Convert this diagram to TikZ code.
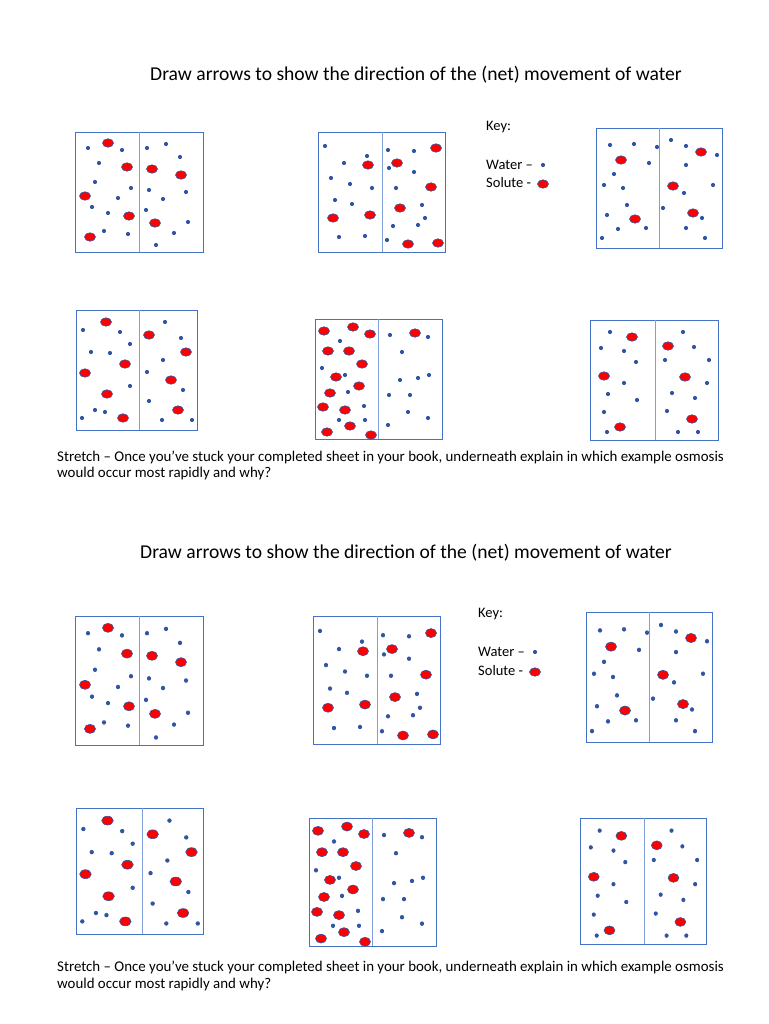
\documentclass[tikz,border=0pt]{standalone}
\usepackage{fontspec}
\setmainfont{Carlito}
\definecolor{bx}{HTML}{4472C4}
\definecolor{dv}{HTML}{7F9FD8}
\definecolor{wt}{HTML}{2F55A4}
\tikzset{
  sol/.style={fill=red, draw=wt, line width=0.6pt},
  frame/.style={draw=bx, line width=0.9pt},
  divline/.style={draw=dv, line width=0.6pt},
  txt/.style={anchor=west, inner sep=0pt, font=\fontsize{14.9}{17}\selectfont},
  keytxt/.style={anchor=west, inner sep=0pt, font=\fontsize{14.5}{17}\selectfont},
  ttl/.style={inner sep=0pt, font=\fontsize{19.6}{22}\selectfont}
}
\newcommand\solset[1]{\foreach \a/\b in {#1} {\draw[sol] (\a,\b) ellipse (5.5 and 4.2);}}
\newcommand\watset[1]{\foreach \a/\b in {#1} {\fill[wt] (\a,\b) circle (2.1);}}
\newcommand\cellA{%
  \draw[frame] (75,132) rectangle (203,252); \draw[divline] (139,132) -- (139,252);
  \watset{88/148,122/150,99/163,95/182,131/188,92/207,108/213,118/198,104/231,128/234,147/148,166/144,180/157,149/190,163/199,186/192,146/210,188/222,174/233,156/245}
  \solset{108/143,127/167,85/196,129/216,90/237,152/169,181/175,155/223}}
\newcommand\cellB{%
  \draw[frame] (318,132) rectangle (445,252); \draw[divline] (382,132) -- (382,252);
  \watset{325/146,344/163,367/156,331/178,350/184,372/188,335/200,352/204,339/237,365/236,388/150,414/151,389/168,414/172,396/188,422/205,418/225,393/226,387/240,425/218}
  \solset{368/165,397/163,436/148,431/187,400/208,370/215,333/218,408/244,438/243}}
\newcommand\cellC{%
  \draw[frame] (596,128) rectangle (722,248); \draw[divline] (659,128) -- (659,248);
  \watset{610/145,634/144,657/147,614/174,604/185,623/188,649/163,627/205,607/215,618/229,602/238,646/228,671/140,686/146,686/165,717/155,684/193,713/185,702/218,686/228,705/238,663/208}
  \solset{621/160,701/152,673/186,693/213,635/219}}
\newcommand\cellD{%
  \draw[frame] (76,310) rectangle (197,430); \draw[divline] (139,310) -- (139,430);
  \watset{83/330,120/332,91/352,110/353,130/386,95/410,82/418,105/412,130/344,165/322,181/338,163/360,147/372,183/390,149/401,162/420,192/420}
  \solset{106/322,125/364,85/373,107/394,123/418,149/335,186/352,171/380,178/410}}
\newcommand\cellE{%
  \draw[frame] (315,319) rectangle (442,439); \draw[divline] (378,319) -- (378,439);
  \watset{340/341,322/368,345/375,348/392,339/420,365/420,364/406,390/335,402/352,428/337,418/378,429/375,400/380,410/395,389/395,388/425,408/412,428/418}
  \solset{324/331,353/327,370/334,328/351,349/351,362/364,336/377,359/386,330/393,323/407,345/410,327/432,350/426,371/435,415/333}}
\newcommand\cellF{%
  \draw[frame] (590,320) rectangle (718,440); \draw[divline] (655,320) -- (655,440);
  \watset{610/332,601/348,624/351,636/362,624/383,608/394,637/400,604/412,607/432,683/332,694/347,665/360,709/360,707/383,672/393,695/398,667/411,678/432,698/432}
  \solset{632/337,668/346,604/376,685/377,620/427,692/419}}
\begin{document}
\begin{tikzpicture}[x=1pt,y=-1pt]
\useasboundingbox (0,0) rectangle (768,1024);
% top half
\node[ttl] (t1) at (416,75) {Draw arrows to show the direction of the (net) movement of water};
\cellA \cellB \cellC \cellD \cellE \cellF
\node[keytxt] (k1) at (486,127) {Key:};
\node[keytxt] (w1) at (486,165) {Water –};
\fill[wt] (543,165) circle (2.1);
\node[keytxt] (s1) at (486,183) {Solute -};
\draw[sol] (543,184) ellipse (5.5 and 4.2);
\node[txt] (st1) at (57,457) {Stretch – Once you’ve stuck your completed sheet in your book, underneath explain in which example osmosis};
\node[txt] (st1b) at (57,474) {would occur most rapidly and why?};
% bottom half
\node[ttl] (t2) at (406,553) {Draw arrows to show the direction of the (net) movement of water};
\begin{scope}[shift={(75,616)},yscale=1.075,shift={(-75,-132)}] \cellA \end{scope}
\begin{scope}[shift={(313,616)},yscale=1.067,shift={(-318,-132)}] \cellB \end{scope}
\begin{scope}[shift={(586,612)},yscale=1.083,shift={(-596,-128)}] \cellC \end{scope}
\begin{scope}[shift={(76,808)},xscale=1.05,yscale=1.05,shift={(-76,-310)}] \cellD \end{scope}
\begin{scope}[shift={(309,818)},yscale=1.067,shift={(-315,-319)}] \cellE \end{scope}
\begin{scope}[shift={(580,818)},xscale=0.984,yscale=1.05,shift={(-590,-320)}] \cellF \end{scope}
\node[keytxt] (k2) at (478,614) {Key:};
\node[keytxt] (w2) at (478,652) {Water –};
\fill[wt] (535,652) circle (2.1);
\node[keytxt] (s2) at (478,671) {Solute -};
\draw[sol] (535,672) ellipse (5.5 and 4.2);
\node[txt] (st2) at (57,967) {Stretch – Once you’ve stuck your completed sheet in your book, underneath explain in which example osmosis};
\node[txt] (st2b) at (57,985) {would occur most rapidly and why?};
\end{tikzpicture}
\end{document}
